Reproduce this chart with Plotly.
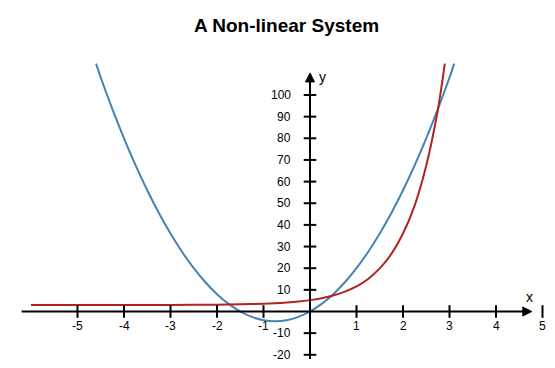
import plotly.graph_objects as go

# ---- data ----
blue_x = [-4.6, -4.5, -4.25, -4.0, -3.75, -3.5, -3.25, -3.0, -2.75, -2.5, -2.25, -2.0,
          -1.75, -1.5, -1.25, -1.0, -0.75, -0.5, -0.25, 0.0, 0.25, 0.5, 0.75, 1.0,
          1.25, 1.5, 1.75, 2.0, 2.25, 2.5, 2.75, 3.0, 3.1]
blue_y = [114.5, 108, 93.5, 80, 67.5, 56, 45.5, 36, 27.5, 20, 13.5, 8,
          3.5, 0, -2.5, -4, -4.5, -4, -2.5, 0, 3.5, 8, 13.5, 20,
          27.5, 36, 45.5, 56, 67.5, 80, 93.5, 108, 114.5]

red_x = [-6.0, -5.0, -4.0, -3.0, -2.0, -1.5, -1.0, -0.75, -0.5, -0.25, 0.0, 0.25, 0.5,
         0.75, 1.0, 1.25, 1.5, 1.75, 2.0, 2.25, 2.5, 2.75, 2.9]
red_y = [3.0, 3.0, 3.0, 3.04, 3.15, 3.3, 3.6, 3.8, 4.15, 4.6, 5.25, 6.15, 7.4,
         9.16, 11.6, 15.05, 19.9, 26.6, 36.0, 48.9, 67.4, 93.2, 114.5]

x_ticks = [-5, -4, -3, -2, -1, 1, 2, 3, 4, 5]
y_ticks = [-20, -10, 10, 20, 30, 40, 50, 60, 70, 80, 90, 100]
x_tick_labels = [str(v) for v in x_ticks]
y_tick_labels = [str(v) for v in y_ticks]

title_text = "A Non-linear System"
x_name, y_name = "x", "y"

# axis extents (data units)
x_axis_start, x_axis_tip = -6.2, 4.77
y_axis_start, y_axis_tip = -21.9, 110.2

FONT = "Arial, Liberation Sans, sans-serif"
BLUE = "#4682B4"
RED = "#B22222"

# the page body has an 8px default margin; the figure fills the rest of the window
W, H = 547, 360
OFF = 8

fig = go.Figure()

fig.add_trace(go.Scatter(x=blue_x, y=blue_y, mode="lines",
                         line=dict(color=BLUE, width=2, shape="spline", smoothing=0.6),
                         hoverinfo="skip", showlegend=False))
fig.add_trace(go.Scatter(x=red_x, y=red_y, mode="lines",
                         line=dict(color=RED, width=2, shape="spline", smoothing=0.6),
                         hoverinfo="skip", showlegend=False))

# tick marks
fig.add_trace(go.Scatter(x=x_ticks, y=[0] * len(x_ticks), mode="markers",
                         marker=dict(symbol="line-ns", size=9,
                                     line=dict(color="black", width=2)),
                         hoverinfo="skip", showlegend=False))
fig.add_trace(go.Scatter(x=[0] * len(y_ticks), y=y_ticks, mode="markers",
                         marker=dict(symbol="line-ew", size=9,
                                     line=dict(color="black", width=2)),
                         hoverinfo="skip", showlegend=False))

shapes = [
    dict(type="line", xref="x", yref="y", x0=x_axis_start, x1=x_axis_tip - 0.1, y0=0, y1=0,
         line=dict(color="black", width=2), layer="above"),
    dict(type="line", xref="x", yref="y", x0=0, x1=0, y0=y_axis_start, y1=y_axis_tip - 2,
         line=dict(color="black", width=2), layer="above"),
    dict(type="path", xref="x", yref="y", xsizemode="pixel", ysizemode="pixel",
         xanchor=x_axis_tip, yanchor=0, path="M-9,-4.5 L0,0 L-9,4.5 Z",
         fillcolor="black", line=dict(color="black", width=1), layer="above"),
    dict(type="path", xref="x", yref="y", xsizemode="pixel", ysizemode="pixel",
         xanchor=0, yanchor=y_axis_tip, path="M-4.5,-9 L0,0 L4.5,-9 Z",
         fillcolor="black", line=dict(color="black", width=1), layer="above"),
]

annotations = []
for v, t in zip(x_ticks, x_tick_labels):
    annotations.append(dict(x=v, y=-6.7, xref="x", yref="y", text=t, showarrow=False,
                            xanchor="center", yanchor="middle",
                            font=dict(family=FONT, size=12, color="black")))
for v, t in zip(y_ticks, y_tick_labels):
    annotations.append(dict(x=-0.37, y=v, xref="x", yref="y", text=t, showarrow=False,
                            xanchor="right", yanchor="middle",
                            font=dict(family=FONT, size=12, color="black")))
annotations.append(dict(x=4.716, y=6.6, xref="x", yref="y", text=x_name, showarrow=False,
                        xanchor="center", yanchor="middle",
                        font=dict(family=FONT, size=14, color="black")))
annotations.append(dict(x=0.27, y=108.2, xref="x", yref="y", text=y_name, showarrow=False,
                        xanchor="center", yanchor="middle",
                        font=dict(family=FONT, size=14, color="black")))
annotations.append(dict(x=(286 - OFF) / W, y=1 - (25.5 - OFF) / H, xref="paper", yref="paper",
                        text="<b>" + title_text + "</b>", showarrow=False,
                        xanchor="center", yanchor="middle",
                        font=dict(family=FONT, size=19, color="black")))

# window px: x = 310 + 46.5*xv, y = 311.5 - 2.165*yv
x0_px, x_scale = 310 - OFF, 46.5
y0_px, y_scale = 311.5 - OFF, 2.165

fig.update_layout(
    width=W, height=H,
    margin=dict(l=0, r=0, t=0, b=0),
    paper_bgcolor="white", plot_bgcolor="white",
    xaxis=dict(range=[-x0_px / x_scale, (W - x0_px) / x_scale], visible=False, fixedrange=True),
    yaxis=dict(range=[(y0_px - H) / y_scale, y0_px / y_scale], visible=False, fixedrange=True),
    shapes=shapes, annotations=annotations,
    hovermode=False, showlegend=False,
)

fig.write_html("out.html", config={"displayModeBar": False})
